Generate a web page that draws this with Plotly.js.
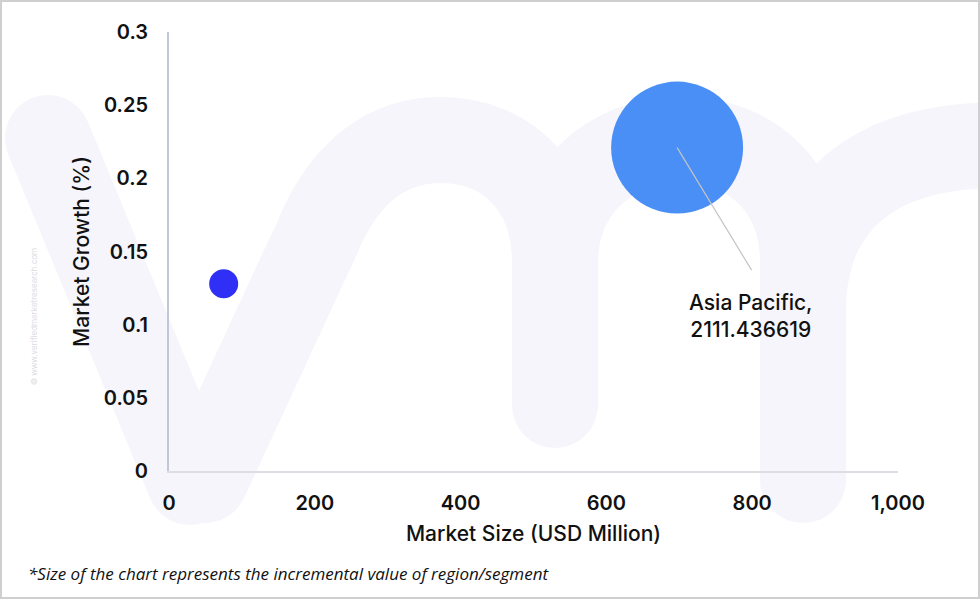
<!DOCTYPE html>
<html><head><meta charset="utf-8">
<script src="https://cdn.plot.ly/plotly-3.0.1.min.js"></script>
<style>html,body{margin:0;padding:0;background:#fff}#c{width:980px;height:599px}</style>
</head><body><div id="c"></div>
<script>
const regions = ["Other", "Asia Pacific"];
const marketSize = [75, 697];
const marketGrowth = [0.128, 0.221];
const incrementalValue = [102, 2111.436619];
const colors = ["#2f2ff5", "#4a8ff5"];
const xTicks = [0, 200, 400, 600, 800, 1000];
const yTicks = [0, 0.05, 0.1, 0.15, 0.2, 0.25, 0.3];
const labelText = "Asia Pacific,<br>2111.436619";

const FONT = "Inter, 'Open Sans', sans-serif";
const W = 980, H = 599, ML = 169, MR = 82, MT = 32, MB = 128;
const PW = W - ML - MR, PH = H - MT - MB;

// faint background watermark (decorative logo)
const wm = `<svg xmlns="http://www.w3.org/2000/svg" width="980" height="599" viewBox="0 0 980 599">
<g fill="none" stroke="#f5f5fb" stroke-width="86" stroke-linecap="round" stroke-linejoin="round">
<path d="M 48 138 L 190 482"/>
<path d="M 205 480 L 318 236 C 345 170 390 140 440 140 C 510 140 555 190 555 262 L 555 405"/>
<path d="M 555 262 C 555 190 610 140 680 140 C 760 140 803 195 803 262 L 803 480"/>
<path d="M 803 300 C 808 205 870 145 1000 145"/>
</g></svg>`;
const wmSrc = "data:image/svg+xml;charset=utf-8," + encodeURIComponent(wm);

const trace = {
  type: "scatter", mode: "markers",
  x: marketSize, y: marketGrowth, text: regions,
  marker: {size: incrementalValue, sizemode: "area", sizeref: 0.2424, color: colors, opacity: 1, line: {width: 0}},
  hoverinfo: "text+x+y", showlegend: false
};
const layout = {
  width: W, height: H,
  margin: {l: ML, r: MR, t: MT, b: MB},
  paper_bgcolor: "#fff", plot_bgcolor: "rgba(0,0,0,0)",
  font: {family: FONT, color: "#111"},
  images: [{source: wmSrc, xref: "paper", yref: "paper", x: -ML / PW, y: 1 + MT / PH,
    sizex: W / PW, sizey: H / PH, sizing: "stretch", xanchor: "left", yanchor: "top", layer: "below"}],
  xaxis: {range: [0, 1000], tickvals: xTicks, tickformat: ",", showgrid: false, zeroline: false,
    showline: true, linecolor: "#dddde4", linewidth: 2, ticks: "", ticklabelstandoff: 13,
    tickfont: {size: 20, family: FONT, weight: 600, color: "#111"},
    title: {text: "Market Size (USD Million)", font: {size: 21, family: FONT, weight: 500, color: "#111"}, standoff: 12}},
  yaxis: {range: [0, 0.3], tickvals: yTicks, showgrid: false, zeroline: false,
    showline: true, linecolor: "#c3c6da", linewidth: 2, ticks: "", ticklabelstandoff: 15,
    tickfont: {size: 20, family: FONT, weight: 600, color: "#111"},
    title: {text: "Market Growth (%)", font: {size: 21, family: FONT, weight: 500, color: "#111"}, standoff: 8}},
  shapes: [
    {type: "rect", xref: "paper", yref: "paper", x0: -(ML - 1) / PW, x1: 1 + (MR - 1) / PW, y0: -(MB - 1) / PH, y1: 1 + (MT - 1) / PH,
     line: {color: "#cfcfcf", width: 2}, fillcolor: "rgba(0,0,0,0)", layer: "above"}
  ],
  annotations: [
    {text: "© www.verifiedmarketresearch.com", xref: "paper", yref: "paper", x: -142 / PW, y: 0.35,
     textangle: -90, showarrow: false, font: {size: 8, family: FONT, color: "#dcdce2"}},
    {text: " ", x: marketSize[1], y: marketGrowth[1], xref: "x", yref: "y",
     showarrow: true, arrowhead: 0, arrowwidth: 1.2, arrowcolor: "#c4c4c4", ax: 76, ay: 125,
     font: {size: 2, color: "rgba(0,0,0,0)"}},
    {text: labelText, x: marketSize[1], y: marketGrowth[1], xref: "x", yref: "y",
     showarrow: false, xshift: 73, yshift: -168, xanchor: "center", yanchor: "middle",
     font: {size: 21, family: FONT, weight: 500, color: "#111"}, align: "center"},
    {text: "<i>*Size of the chart represents the incremental value of region/segment</i>", xref: "paper", yref: "paper",
     x: -143 / PW, y: -102 / PH, xanchor: "left", yanchor: "middle", showarrow: false,
     font: {size: 17, family: "'Open Sans', sans-serif", color: "#111"}}
  ]
};
Plotly.newPlot("c", [trace], layout, {displayModeBar: false, staticPlot: true});
</script></body></html>
